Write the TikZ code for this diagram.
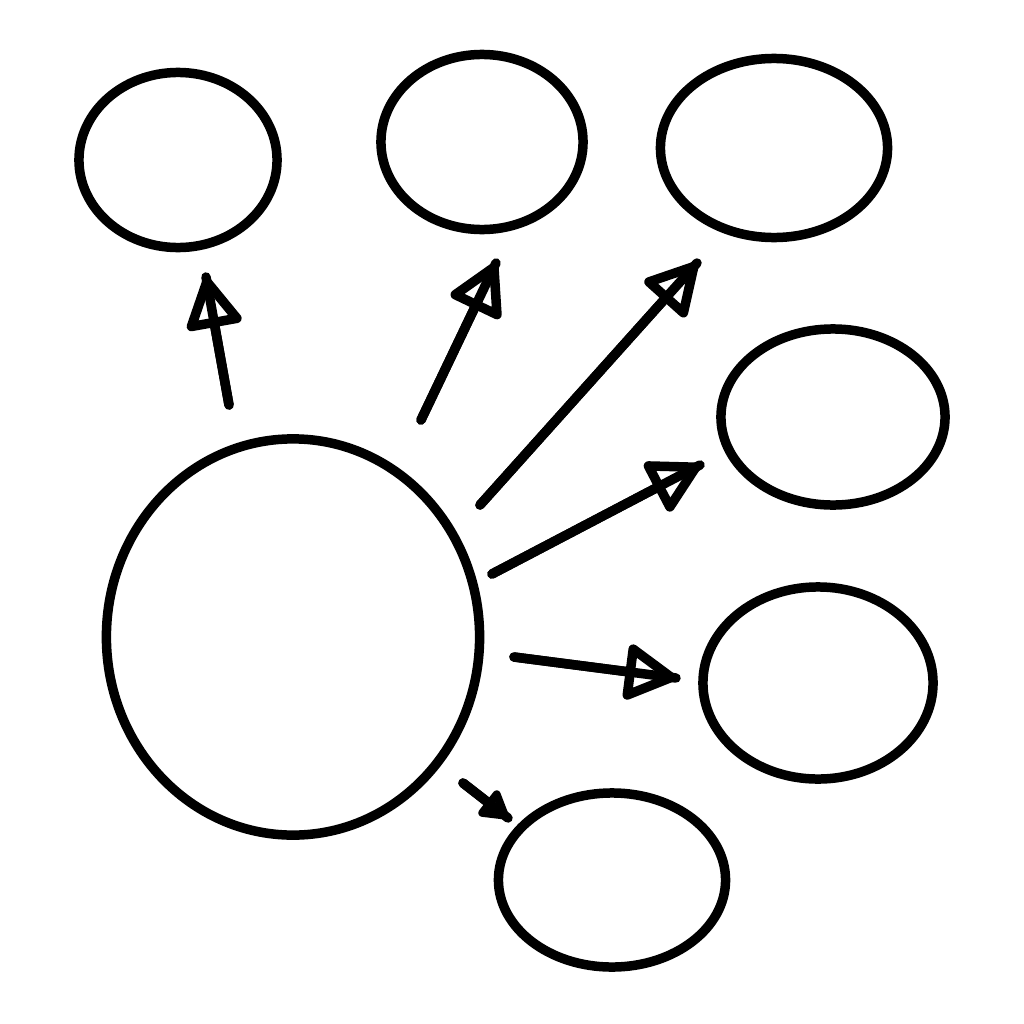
\documentclass[tikz,border=0pt]{standalone}
\usetikzlibrary{shapes.geometric,arrows.meta}
\begin{document}
\begin{tikzpicture}[x=0.01cm,y=-0.01cm,
  ink/.style={line width=2.7pt,line cap=round,line join=round,black},
  bubble/.style={ink,draw,ellipse,inner sep=0pt,outer sep=0pt},
  shaft/.style={ink},
  headarrow/.style={ink,-{Triangle[open,length=16pt,width=17pt,line join=round]}},
  smallhead/.style={ink,-{Triangle[open,length=9pt,width=10pt,line join=round]}}]
\useasboundingbox[fill=white] (0,0) rectangle (1024,1024);
% bubbles
\node[bubble,minimum width=1.98cm,minimum height=1.75cm] (b1) at (178,160) {};
\node[bubble,minimum width=2.02cm,minimum height=1.75cm] (b2) at (482,142) {};
\node[bubble,minimum width=2.27cm,minimum height=1.79cm] (b3) at (774,148) {};
\node[bubble,minimum width=2.24cm,minimum height=1.76cm] (b4) at (833,417) {};
\node[bubble,minimum width=2.30cm,minimum height=1.92cm] (b5) at (818,683) {};
\node[bubble,minimum width=2.27cm,minimum height=1.74cm] (b6) at (612,880) {};
\node[bubble,minimum width=3.73cm,minimum height=3.96cm] (c) at (293,637) {};
% arrow ends
\coordinate (s1) at (229,405); \coordinate (t1) at (206,277);
\coordinate (s2) at (421,420); \coordinate (t2) at (496,263);
\coordinate (s3) at (480,505); \coordinate (t3) at (697,263);
\coordinate (s4) at (492,574); \coordinate (t4) at (700,465);
\coordinate (s5) at (514,657); \coordinate (t5) at (676,678);
\coordinate (s6) at (463,783); \coordinate (t6) at (508,818);
% arrows
\foreach \i in {1,...,5}{
  \draw[shaft] (s\i) -- (t\i);
  \draw[headarrow] (s\i) -- (t\i);
}
\draw[shaft] (s6) -- (t6);
\draw[smallhead] (s6) -- (t6);
\end{tikzpicture}
\end{document}
